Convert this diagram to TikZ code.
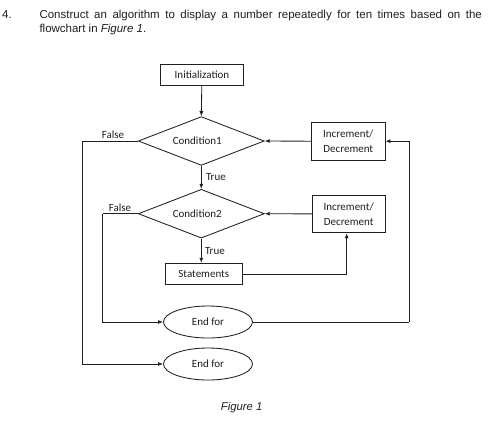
\documentclass[tikz,border=0pt]{standalone}
\usepackage{fontspec}
\setmainfont{Liberation Sans}
\newfontfamily\calib{Carlito}
\usetikzlibrary{shapes.geometric,arrows.meta}
\definecolor{ink}{gray}{0.12}
\tikzset{
  every picture/.style={x=1pt,y=-1pt},
  lbl/.style={font=\calib\fontsize{11}{13}\selectfont, text=ink},
  box/.style={draw=ink, line width=0.85pt, lbl, inner sep=0pt},
  dia/.style={draw=ink, line width=0.85pt, shape=diamond, lbl, inner sep=0pt, minimum width=126pt, minimum height=44.5pt},
  oval/.style={draw=ink, line width=0.85pt, shape=ellipse, lbl, inner sep=0pt, minimum width=89pt, minimum height=32pt},
  conn/.style={draw=ink, line width=0.85pt, -{Latex[length=5pt,width=4pt]}},
  plain/.style={draw=ink, line width=0.85pt},
  head/.style={anchor=base west, inner sep=0pt, font=\fontsize{11.5}{14}\selectfont, text=ink},
}
\begin{document}
\begin{tikzpicture}
\useasboundingbox[fill=white] (0,0) rectangle (492,429);
% header
\node[head] (num) at (2,18.3) {4.};
\node[head] (q1) at (39.3,18.3) {\makebox[442.4pt][s]{Construct an algorithm to display a number repeatedly for ten times based on the}};
\node[head] (q2) at (39.3,32.6) {flowchart in \textit{Figure 1}.};
% nodes
\node[box, minimum width=82.6pt, minimum height=21pt] (init) at (202,74.5) {Initialization};
\node[dia] (c1) at (201.3,141) {\hspace*{-8pt}Condition1};
\node[box, align=center, minimum width=73.3pt, minimum height=37.7pt] (inc1) at (348.3,141.2) {Increment/\\[2pt]Decrement};
\node[dia] (c2) at (201.3,213.7) {\hspace*{-8pt}Condition2};
\node[box, align=center, minimum width=72.7pt, minimum height=37.7pt] (inc2) at (348.7,213.9) {Increment/\\[2pt]Decrement};
\node[box, minimum width=77.7pt, minimum height=21pt] (stmt) at (203.8,273.8) {Statements};
\node[oval] (e1) at (208,322) {End for};
\node[oval] (e2) at (208,364) {End for};
\node[font=\itshape\fontsize{11.3}{13}\selectfont, text=ink, inner sep=0pt] (fig) at (241.7,407.5) {Figure 1};
% helper coordinates
\coordinate (l1) at (82.7,141);
\coordinate (l2) at (102.7,213.7);
\coordinate (r1) at (409.3,322);
\coordinate (s1) at (346.7,274.3);
% connectors
\draw[conn] (init) -- (c1.north);
\draw[conn] (c1.south) -- (c2.north) node[lbl, pos=0.5, right, xshift=1pt] (t1) {True};
\draw[conn] (c2.south) -- (c2.south |- stmt.north) node[lbl, pos=0.5, right, xshift=0pt] (t2) {True};
\draw[conn] (inc1.west) -- (c1.east);
\draw[conn] (inc2.west) -- (c2.east);
\draw[plain] (stmt.east |- s1) -- (s1);
\draw[conn] (s1) -- (s1 |- inc2.south);
\draw[plain] (c1.west) -- (l1);
\draw[conn] (l1) |- (e2.west);
\draw[plain] (c2.west) -- (l2);
\draw[conn] (l2) |- (e1.west);
\draw[plain] (e1.east) -- (r1);
\draw[conn] (r1) |- (inc1.east);
\node[lbl, anchor=base] (f1) at (113,138) {False};
\node[lbl, anchor=base] (f2) at (120,211) {False};
\end{tikzpicture}
\end{document}
